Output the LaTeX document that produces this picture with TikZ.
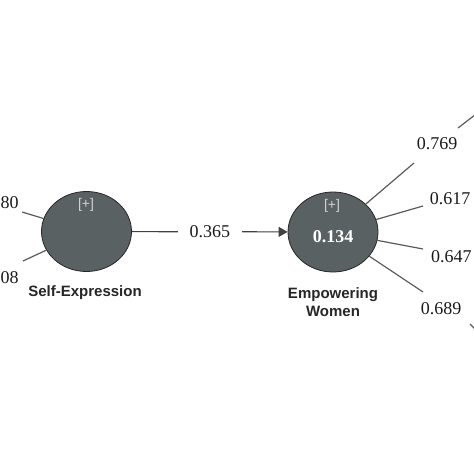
\documentclass[tikz,border=0pt]{standalone}
\usepackage{fontspec}
\setmainfont{Liberation Serif}
\newfontfamily\plsfont{Liberation Sans}
\usetikzlibrary{shapes.geometric,arrows.meta}
\definecolor{lvfill}{HTML}{5A6163}
\definecolor{pathgray}{HTML}{5A5A5A}

\begin{document}
\begin{tikzpicture}[x=10pt,y=10pt]
\tikzstyle{latent}=[ellipse,draw=black!85,line width=0.8pt,fill=lvfill,minimum width=90pt,minimum height=80pt,inner sep=0pt]
\tikzstyle{coef}=[inner sep=0pt,text=black!90,font=\fontsize{18}{18}\selectfont]
\tikzstyle{lvname}=[inner sep=0pt,align=center,text=black!85,font=\plsfont\bfseries\fontsize{15}{18}\selectfont]
\tikzstyle{plus}=[inner sep=0pt,text=black!18,font=\plsfont\fontsize{14}{14}\selectfont]
\tikzstyle{load}=[pathgray,line width=1.2pt]
\useasboundingbox (0,0) rectangle (47.4,-47.4);
\clip (0,0) rectangle (47.4,-47.4);
% latent variables
\node [latent] (se) at (8.65,-23.15) {};
\node [latent] (ew) at (33.3,-23.2) {};
\node [plus] (seplus) at (8.6,-20.5) {[+]};
\node [plus] (ewplus) at (33.2,-20.6) {[+]};
\node [coef,text=white,font=\bfseries\fontsize{18}{18}\selectfont] (ewr2) at (33.3,-23.7) {0.134};
\node [lvname] (sename) at (8.5,-29.3) {Self-Expression};
\node [lvname] (ewname) at (33.3,-30.2) {Empowering\\Women};
% path
\draw [black!75,line width=1.2pt,-{Triangle[length=9pt,width=10pt]}] (se) -- node [coef,fill=white,inner xsep=12pt,inner ysep=3pt] (p1) {0.365} (ew);
% outer loadings
\coordinate (i1) at (41.4,-16.3);
\coordinate (i2) at (42.3,-20.6);
\coordinate (i3) at (42.3,-24.9);
\coordinate (i4) at (42.3,-29.2);
\draw [load] (ew) -- (i1);
\draw [load] (ew) -- (i2);
\draw [load] (ew) -- (i3);
\draw [load] (ew) -- (i4);
\node [coef] (i1val) at (43.7,-14.4) {0.769};
\node [coef] (i2val) at (45.0,-19.9) {0.617};
\node [coef,anchor=west] (i3val) at (43.1,-25.7) {0.647};
\node [coef] (i4val) at (44.1,-30.9) {0.689};
\coordinate (l1) at (2.2,-21.2);
\coordinate (l2) at (2.3,-26.1);
\draw [load] (se) -- (l1);
\draw [load] (se) -- (l2);
\node [coef,anchor=west] (l1val) at (0.05,-20.3) {80};
\node [coef,anchor=west] (l2val) at (0.05,-27.8) {08};
% stubs running off the picture
\coordinate (o1) at (45.8,-12.8);
\coordinate (o2) at (48,-11.1);
\coordinate (o3) at (47.0,-32.4);
\coordinate (o4) at (48,-33.4);
\draw [load] (o1) -- (o2);
\draw [load] (o3) -- (o4);
\end{tikzpicture}
\end{document}
